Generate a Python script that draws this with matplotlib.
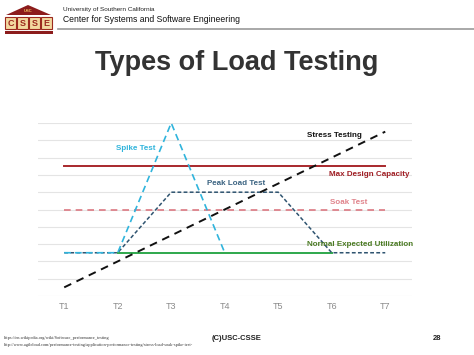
import matplotlib
matplotlib.use("Agg")
import matplotlib.pyplot as plt
from matplotlib.patches import Polygon, Rectangle

plt.rcParams["font.family"] = ["Liberation Sans", "DejaVu Sans"]

# time points and load levels
ticks = ["T1", "T2", "T3", "T4", "T5", "T6", "T7"]
t = [1, 2, 3, 4, 5, 6, 7]

max_capacity = 7.5
soak_level = 5.0
normal_level = 2.5

spike_x = [1, 2, 3, 4]
spike_y = [2.5, 2.5, 10.0, 2.5]

peak_x = [1, 2, 3, 5, 6, 7]
peak_y = [2.5, 2.5, 6.0, 6.0, 2.5, 2.5]

stress_x = [1, 7]
stress_y = [0.5, 9.5]

normal_x = [2, 6]

W, H = 474, 355
fig = plt.figure(figsize=(W / 100, H / 100), dpi=100)


def fx(px):
    return px / W


def fy(py):
    return 1 - py / H


# header: logo, affiliation, rule
fig.patches.append(Polygon([[fx(6), fy(15)], [fx(28), fy(5)], [fx(51), fy(15)]],
                           closed=True, transform=fig.transFigure,
                           facecolor="#8c1c1c", edgecolor="none"))
fig.text(fx(28), fy(11.5), "USC", color="#f0c060", fontsize=3, ha="center",
         va="center", fontweight="bold")
for i, ch in enumerate("CSSE"):
    x0 = 5 + i * 12
    fig.patches.append(Rectangle((fx(x0), fy(29)), fx(11), 12 / H,
                                 transform=fig.transFigure, facecolor="#f2d9a0",
                                 edgecolor="#9c2a1e", linewidth=0.8))
    fig.text(fx(x0 + 5.5), fy(23), ch, color="#9c2a1e", fontsize=6.5,
             ha="center", va="center", fontweight="bold")
fig.patches.append(Rectangle((fx(5), fy(34)), fx(48), 3 / H,
                             transform=fig.transFigure, facecolor="#8c1c1c",
                             edgecolor="none"))
fig.text(fx(63), fy(9), "University of Southern California", fontsize=4.6,
         color="#222222", va="center")
fig.text(fx(63), fy(19.5), "Center for Systems and Software Engineering",
         fontsize=6.2, color="#111111", va="center")
fig.add_artist(plt.Line2D([fx(58), fx(474)], [fy(28.5), fy(28.5)],
                          transform=fig.transFigure, color="#999999", lw=1.2))

fig.text(0.5, fy(63), "Types of Load Testing", fontsize=19.5, fontweight="bold",
         color="#333333", ha="center", va="center")

# chart
ax = fig.add_axes([fx(38), fy(296), fx(412 - 38), (296 - 123) / H])
ax.set_xlim(0.51, 7.5)
ax.set_ylim(0, 10)
for s in ax.spines.values():
    s.set_visible(False)
ax.set_yticks(range(0, 11))
ax.set_yticklabels([])
ax.tick_params(axis="y", length=0)
ax.grid(axis="y", color="#e4e4e4", lw=0.8)
ax.set_axisbelow(True)
ax.set_xticks(t)
ax.set_xticklabels(ticks, fontsize=6.5, color="#8a8a8a")
ax.tick_params(axis="x", length=0, pad=4)

ax.plot([t[0], t[-1]], [max_capacity] * 2, color="#a8282c", lw=1.4, clip_on=False)
ax.plot([t[0], t[-1]], [soak_level] * 2, color="#dc7882", lw=1.2,
        dashes=(4, 3), clip_on=False)
ax.plot(normal_x, [normal_level] * 2, color="#2ea84c", lw=1.4, clip_on=False)
ax.plot(peak_x, peak_y, color="#2f5470", lw=1.1, dashes=(2.5, 1.5), clip_on=False)
ax.plot(spike_x, spike_y, color="#30b4dc", lw=1.2, dashes=(4, 2.5), clip_on=False)
ax.plot(stress_x, stress_y, color="#111111", lw=1.4, dashes=(4, 3), clip_on=False)

lab = dict(fontsize=5.8, fontweight="bold", ha="center", va="center")
ax.text(2.33, 8.55, "Spike Test", color="#30b4dc", **lab)
ax.text(6.05, 9.3, "Stress Testing", color="#111111", **lab)
ax.text(6.70, 7.05, "Max Design Capacity", color="#a01e24", **lab)
ax.text(4.21, 6.53, "Peak Load Test", color="#3c6482", **lab)
ax.text(6.31, 5.38, "Soak Test", color="#e0848c", **lab)
ax.text(6.53, 3.0, "Normal Expected Utilization", color="#4a7a22", **lab)

# footer
fig.text(fx(4), fy(338), "https://en.wikipedia.org/wiki/Software_performance_testing",
         fontsize=3.2, family="Liberation Serif", color="#333333", va="center")
fig.text(fx(4), fy(345),
         "http://www.agileload.com/performance-testing/application-performance-testing/stress-load-soak-spike-test-",
         fontsize=3.2, family="Liberation Serif", color="#333333", va="center")
fig.text(0.5, fy(339), "(C)USC-CSSE", fontsize=5.5, fontweight="bold",
         color="#222222", ha="center", va="center")
fig.text(fx(437), fy(339), "28", fontsize=5.5, fontweight="bold",
         color="#222222", ha="center", va="center")

fig.savefig("out.png", dpi=100)
